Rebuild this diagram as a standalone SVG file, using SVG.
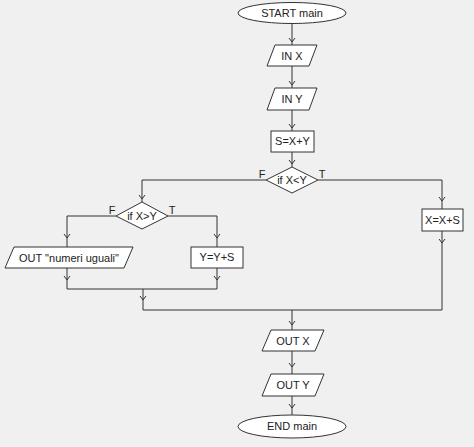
<svg xmlns="http://www.w3.org/2000/svg" width="474" height="447" viewBox="0 0 474 447">
<defs>
<marker id="arr" markerWidth="6" markerHeight="8" refX="5" refY="4" orient="auto" markerUnits="userSpaceOnUse" viewBox="0 0 6 8">
<path d="M1,1 L5,4 L1,7" fill="none" stroke="#333" stroke-width="1"/>
</marker>
</defs>
<style>
.bg{fill:#f0f0f0}
.sh{fill:#fff;stroke:#333;stroke-width:1}
.ln{fill:none;stroke:#333;stroke-width:1}
.ar{fill:none;stroke:#333;stroke-width:1;marker-end:url(#arr)}
text{font-family:"Liberation Sans",Arial,sans-serif;font-size:11px;fill:#222;text-anchor:middle}
.lb{font-size:11px}
</style>
<rect class="bg" x="0" y="0" width="474" height="447"/>
<g id="connectors">
<path class="ar" d="M292,23 V42"/><path class="ln" d="M292,42 V45"/>
<path class="ar" d="M292,66 V85"/><path class="ln" d="M292,85 V88"/>
<path class="ar" d="M292,110 V128"/><path class="ln" d="M292,128 V131"/>
<path class="ar" d="M292,152 V164"/><path class="ln" d="M292,164 V167"/>
<path class="ar" d="M266,180 H142 V199"/><path class="ln" d="M142,199 V202"/>
<path class="ar" d="M318,180 H442 V201"/><path class="ln" d="M442,201 V209"/>
<path class="ar" d="M116,216 H67 V238"/><path class="ln" d="M67,238 V247"/>
<path class="ar" d="M168,216 H217 V238"/><path class="ln" d="M217,238 V247"/>
<path class="ar" d="M67,268 V280"/><path class="ln" d="M67,280 V289"/>
<path class="ar" d="M217,268 V280"/><path class="ln" d="M217,280 V289"/>
<path class="ln" d="M67,289 H217"/>
<path class="ar" d="M143,289 V300"/><path class="ln" d="M143,300 V310 H442"/>
<path class="ar" d="M442,231 V243"/><path class="ln" d="M442,243 V310"/>
<path class="ar" d="M292,310 V325"/><path class="ln" d="M292,325 V330"/>
<path class="ar" d="M292,351 V367"/><path class="ln" d="M292,367 V374"/>
<path class="ar" d="M292,396 V408"/><path class="ln" d="M292,408 V415"/>
</g>
<g id="start"><ellipse class="sh" cx="292" cy="13" rx="54" ry="10.5"/><text x="292" y="17">START main</text></g>
<g id="inx"><polygon class="sh" points="275,45 317,45 309,66 267,66"/><text x="292" y="60">IN X</text></g>
<g id="iny"><polygon class="sh" points="275,88 317,88 309,110 267,110"/><text x="292" y="103">IN Y</text></g>
<g id="sxy"><rect class="sh" x="271" y="131" width="43" height="21"/><text x="292.5" y="145">S=X+Y</text></g>
<g id="d1"><polygon class="sh" points="292,167 318,180 292,193 266,180"/><text x="292" y="184">if X&lt;Y</text>
<text class="lb" x="262" y="178">F</text><text class="lb" x="322" y="178">T</text></g>
<g id="xxs"><rect class="sh" x="422" y="209" width="41" height="22"/><text x="442.5" y="224">X=X+S</text></g>
<g id="d2"><polygon class="sh" points="142,202 168,216 142,229 116,216"/><text x="142" y="220">if X&gt;Y</text>
<text class="lb" x="112" y="214">F</text><text class="lb" x="172" y="214">T</text></g>
<g id="out1"><polygon class="sh" points="14,247 133,247 124,268 5,268"/><text x="69" y="262">OUT "numeri uguali"</text></g>
<g id="yys"><rect class="sh" x="191" y="247" width="52" height="21"/><text x="217" y="261">Y=Y+S</text></g>
<g id="outx"><polygon class="sh" points="271,330 324,330 315,351 262,351"/><text x="293" y="345">OUT X</text></g>
<g id="outy"><polygon class="sh" points="271,374 324,374 315,396 262,396"/><text x="293" y="389">OUT Y</text></g>
<g id="end"><ellipse class="sh" cx="292" cy="426.5" rx="54" ry="11.5"/><text x="292" y="430">END main</text></g>
</svg>
